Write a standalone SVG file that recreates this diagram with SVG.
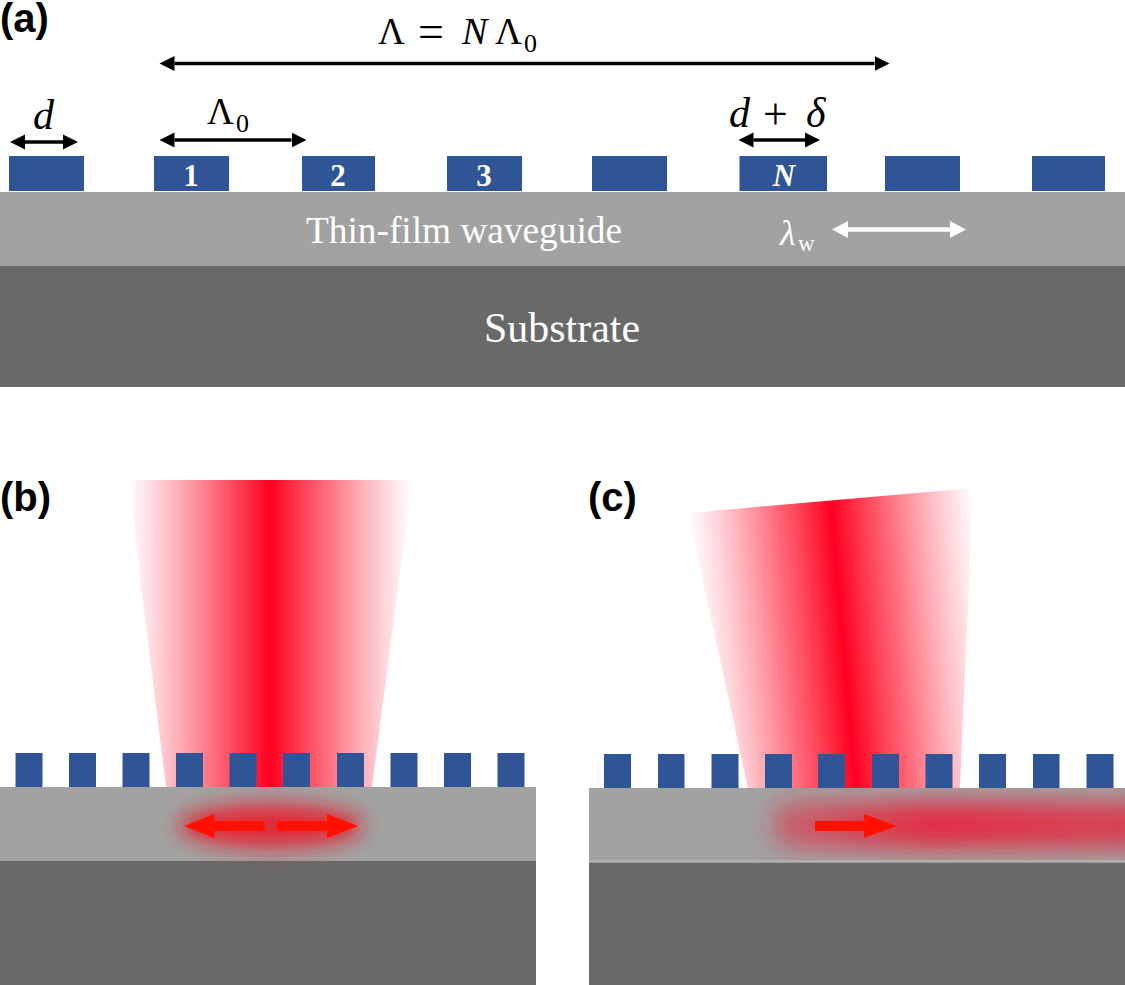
<svg xmlns="http://www.w3.org/2000/svg" width="1125" height="985" viewBox="0 0 1125 985">
<style>
.film{fill:#a2a2a2}
.sub{fill:#696969}
.block{fill:#2f5597}
.panel{font-family:"Liberation Sans","Arial",sans-serif;font-weight:700;font-size:40px;fill:#000}
.m{font-family:"Liberation Serif","DejaVu Serif",serif;fill:#000}
.w{font-family:"Liberation Serif","DejaVu Serif",serif;fill:#fff}
.num{font-family:"Liberation Serif","DejaVu Serif",serif;font-weight:700;font-size:31px;fill:#fff;text-anchor:middle}
.dim{stroke:#000;stroke-width:3.4;fill:none;marker-start:url(#hb);marker-end:url(#hb)}
.dimw{stroke:#fff;stroke-width:4.5;fill:none;marker-start:url(#hw);marker-end:url(#hw)}
.red{fill:#ff1000}
</style>
<defs>
<marker id="hb" markerUnits="userSpaceOnUse" markerWidth="16" markerHeight="16" viewBox="0 -8 16 16" refX="0" refY="0" orient="auto-start-reverse"><path d="M0,-7.5L15,0L0,7.5Z" fill="#000"/></marker>
<marker id="hw" markerUnits="userSpaceOnUse" markerWidth="17" markerHeight="18" viewBox="0 -9 17 18" refX="0" refY="0" orient="auto-start-reverse"><path d="M0,-8.5L16,0L0,8.5Z" fill="#fff"/></marker>
<linearGradient id="beamB" gradientUnits="userSpaceOnUse" x1="128" y1="0" x2="412" y2="0">
<stop offset="0" stop-color="#fff"/><stop offset=".1" stop-color="#ffd4da"/><stop offset=".2" stop-color="#ffa4ae"/><stop offset=".3" stop-color="#ff6e7e"/><stop offset=".4" stop-color="#ff3a50"/><stop offset=".5" stop-color="#ff0020"/><stop offset=".6" stop-color="#ff3a50"/><stop offset=".7" stop-color="#ff6e7e"/><stop offset=".8" stop-color="#ffa4ae"/><stop offset=".9" stop-color="#ffd4da"/><stop offset="1" stop-color="#fff"/>
</linearGradient>
<linearGradient id="beamC" gradientUnits="userSpaceOnUse" x1="688" y1="513" x2="973" y2="488">
<stop offset="0" stop-color="#fff"/><stop offset=".1" stop-color="#ffd4da"/><stop offset=".2" stop-color="#ffa4ae"/><stop offset=".3" stop-color="#ff6e7e"/><stop offset=".4" stop-color="#ff3a50"/><stop offset=".5" stop-color="#ff0020"/><stop offset=".6" stop-color="#ff3a50"/><stop offset=".7" stop-color="#ff6e7e"/><stop offset=".8" stop-color="#ffa4ae"/><stop offset=".9" stop-color="#ffd4da"/><stop offset="1" stop-color="#fff"/>
</linearGradient>
<linearGradient id="glowC" gradientUnits="userSpaceOnUse" x1="770" y1="0" x2="1125" y2="0"><stop offset="0" stop-color="#e8243c" stop-opacity=".5"/><stop offset=".45" stop-color="#e8243c" stop-opacity=".95"/><stop offset="1" stop-color="#e8243c" stop-opacity=".78"/></linearGradient>
<filter id="blur" x="-20%" y="-150%" width="140%" height="400%"><feGaussianBlur stdDeviation="12"/></filter>
<filter id="blurB" x="-30%" y="-120%" width="160%" height="340%"><feGaussianBlur stdDeviation="10"/></filter>
</defs>
<rect width="1125" height="985" fill="#fff"/>

<g id="panel-a">
<rect id="a-film" class="film" x="0" y="192" width="1125" height="74"/>
<rect id="a-substrate" class="sub" x="0" y="266" width="1125" height="121"/>
<g id="a-blocks">
<rect class="block" x="9" y="156" width="75" height="35"/>
<rect class="block" x="154" y="156" width="75" height="35"/>
<rect class="block" x="302" y="156" width="73" height="35"/>
<rect class="block" x="447" y="156" width="75" height="35"/>
<rect class="block" x="592" y="156" width="75" height="35"/>
<rect class="block" x="739.500" y="156" width="87.500" height="35"/>
<rect class="block" x="885" y="156" width="75" height="35"/>
<rect class="block" x="1032" y="156" width="73" height="35"/>
</g>
<text class="num" x="191" y="186">1</text>
<text class="num" x="338" y="186">2</text>
<text class="num" x="484" y="186">3</text>
<text class="num" x="784" y="186" font-style="italic">N</text>
<text class="w" x="306" y="243" font-size="37" textLength="316" lengthAdjust="spacingAndGlyphs">Thin-film waveguide</text>
<text class="w" x="484" y="342" font-size="42" textLength="156" lengthAdjust="spacingAndGlyphs">Substrate</text>
<text class="w" x="780" y="245" font-size="36" font-style="italic">λ</text>
<text class="w" x="798" y="251" font-size="23">w</text>
<text class="panel" x="0" y="32">(a)</text>
<text class="m" x="378" y="44" font-size="37">Λ</text>
<text class="m" x="418" y="47" font-size="46">=</text>
<text class="m" x="462" y="44" font-size="38" font-style="italic">N</text>
<text class="m" x="495" y="44" font-size="37">Λ</text>
<text class="m" x="524" y="52" font-size="26">0</text>
<text class="m" x="33" y="129" font-size="42" font-style="italic">d</text>
<text class="m" x="207" y="124" font-size="37">Λ</text>
<text class="m" x="236" y="132" font-size="26">0</text>
<text class="m" x="729" y="127" font-size="42" font-style="italic">d</text>
<text class="m" x="763" y="129" font-size="44">+</text>
<text class="m" x="806" y="127" font-size="42" font-style="italic">δ</text>
</g>

<g id="panel-b">
<rect id="b-film" class="film" x="0" y="787" width="536" height="74"/>
<rect id="b-substrate" class="sub" x="0" y="861" width="536" height="124"/>
<polygon id="b-beam" points="128,480 412,480 372,787 166,787" fill="url(#beamB)"/>
<g id="b-blocks">
<rect class="block" x="15.500" y="753" width="27" height="34"/>
<rect class="block" x="69" y="753" width="27" height="34"/>
<rect class="block" x="122.500" y="753" width="27" height="34"/>
<rect class="block" x="176" y="753" width="27" height="34"/>
<rect class="block" x="229.500" y="753" width="27" height="34"/>
<rect class="block" x="283" y="753" width="27" height="34"/>
<rect class="block" x="337" y="753" width="27" height="34"/>
<rect class="block" x="390.500" y="753" width="27" height="34"/>
<rect class="block" x="444" y="753" width="27" height="34"/>
<rect class="block" x="497.500" y="753" width="27" height="34"/>
</g>
<ellipse id="b-glow" cx="271" cy="826" rx="92" ry="22" fill="#ee1525" opacity=".85" filter="url(#blurB)"/>
<text class="panel" x="0" y="511">(b)</text>
</g>

<g id="panel-c">
<rect id="c-film" class="film" x="589" y="788" width="536" height="74"/>
<rect x="589" y="860" width="536" height="2.500" fill="#b0b0b0"/>
<rect id="c-substrate" class="sub" x="589" y="862.500" width="536" height="122.500"/>
<polygon id="c-beam" points="688,513 973,488 960,788 748,788" fill="url(#beamC)"/>
<g id="c-blocks">
<rect class="block" x="604" y="754" width="27" height="34"/>
<rect class="block" x="658" y="754" width="26.500" height="34"/>
<rect class="block" x="711.500" y="754" width="27" height="34"/>
<rect class="block" x="765" y="754" width="27" height="34"/>
<rect class="block" x="818" y="754" width="27" height="34"/>
<rect class="block" x="872" y="754" width="27" height="34"/>
<rect class="block" x="925.500" y="754" width="27" height="34"/>
<rect class="block" x="979" y="754" width="27" height="34"/>
<rect class="block" x="1033" y="754" width="26.500" height="34"/>
<rect class="block" x="1086.500" y="754" width="27" height="34"/>
</g>
<svg x="589" y="788" width="536" height="72" viewBox="589 788 536 72">
<rect id="c-glow" x="772" y="802" width="420" height="46" rx="23" fill="url(#glowC)" filter="url(#blur)"/>
</svg>
<text class="panel" x="588" y="511">(c)</text>
</g>

<g id="connectors">
<line class="dim" x1="174.500" y1="63.500" x2="874.500" y2="63.500"/>
<line class="dim" x1="25" y1="142" x2="63" y2="142"/>
<line class="dim" x1="174.500" y1="140" x2="291.500" y2="140"/>
<line class="dim" x1="753.500" y1="140" x2="805" y2="140"/>
<line class="dimw" x1="848" y1="229.500" x2="950" y2="229.500"/>
<polygon class="red" points="184,826 214.500,814 214.500,821 264.500,821 264.500,831 214.500,831 214.500,838"/>
<polygon class="red" points="358,826 327,814 327,821 277,821 277,831 327,831 327,838"/>
<polygon class="red" points="896.500,826 864,814 864,821 815,821 815,831 864,831 864,838"/>
</g>
</svg>
